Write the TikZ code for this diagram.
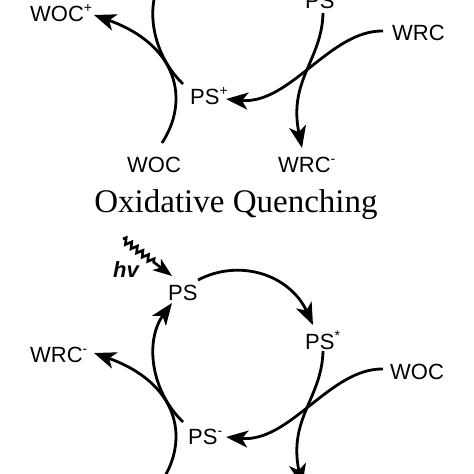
\documentclass[tikz,border=0pt]{standalone}
\usepackage{fontspec}
\setmainfont{Liberation Serif}
\newfontfamily\labfont{Liberation Sans}
\usetikzlibrary{arrows.meta,decorations.pathmorphing}
\newcommand\upmark[1]{\raisebox{0.40em}{\fontsize{14}{14}\selectfont #1}}
\begin{document}
\begin{tikzpicture}[x=1pt,y=-1pt,
  lab/.style={font=\labfont\fontsize{22}{22}\selectfont, inner sep=0pt, anchor=base west},
  conn/.style={line width=2.8pt},
  arr/.style={conn,-{Stealth[length=22pt,width=17pt,inset=6pt]}},
  wavy/.style={line width=2.6pt, decorate, decoration={zigzag, segment length=7pt, amplitude=3pt, post length=22pt},
    -{Stealth[length=19pt,width=14pt,inset=5pt]}}]
\useasboundingbox (0,0) rectangle (474,474);
\fill[white] (0,0) rectangle (474,474);
\clip (0,0) rectangle (474,474);
% ---------- top (oxidative) cycle ----------
\node[lab] (tPSs) at (305,8) {PS\upmark{*}};
\node[lab] (tWOCp) at (30,21) {WOC\upmark{+}};
\node[lab] (tPSp) at (190,104) {PS\upmark{+}};
\node[lab] (tWRC) at (392,40) {WRC};
\node[lab] (tWOC) at (127,172) {WOC};
\node[lab] (tWRCm) at (278,172) {WRC\upmark{-}};
\node[font=\fontsize{33}{33}\selectfont, inner sep=0pt, anchor=base] (title) at (236,212) {Oxidative Quenching};
\coordinate (tA0) at (183,84);   \coordinate (tA1) at (172,-35);
\coordinate (tB0) at (162,143);  \coordinate (tB1) at (94,15);
\coordinate (tC0) at (323,13);   \coordinate (tC1) at (302,148);
\coordinate (tD0) at (383,31);   \coordinate (tD1) at (226,99);
\draw[arr] (tA0) .. controls (150,52) and (145,2) .. (tA1);
\draw[arr] (tB0) .. controls (190,100) and (178,45) .. (tB1);
\draw[arr] (tC0) .. controls (322,60) and (288,80) .. (tC1);
\draw[arr] (tD0) .. controls (330,30) and (290,105) .. (tD1);
% ---------- bottom (reductive) cycle ----------
\node[lab] (bPS) at (168,300) {PS};
\node[lab] (bPSs) at (305,349) {PS\upmark{*}};
\node[lab] (bWOC) at (390,379) {WOC};
\node[lab] (bWRCm) at (30,362) {WRC\upmark{-}};
\node[lab] (bPSm) at (188,444) {PS\upmark{-}};
\node[lab, font=\labfont\bfseries\itshape\fontsize{22}{22}\selectfont] (hv) at (113,277) {hv};
\coordinate (bE0) at (198,280);  \coordinate (bE1) at (313,325);
\coordinate (bA0) at (183,422);  \coordinate (bA1) at (172,303);
\coordinate (bB0) at (162,481);  \coordinate (bB1) at (94,353);
\coordinate (bC0) at (323,351);  \coordinate (bC1) at (302,486);
\coordinate (bD0) at (383,369);  \coordinate (bD1) at (226,437);
\coordinate (hv0) at (123,239);  \coordinate (hv1) at (172,276);
\draw[arr] (bE0) .. controls (240,258) and (290,275) .. (bE1);
\draw[arr] (bA0) .. controls (150,390) and (145,340) .. (bA1);
\draw[arr] (bB0) .. controls (190,438) and (178,383) .. (bB1);
\draw[arr] (bC0) .. controls (322,398) and (288,418) .. (bC1);
\draw[arr] (bD0) .. controls (330,368) and (290,443) .. (bD1);
\draw[wavy] (hv0) -- (hv1);
\end{tikzpicture}
\end{document}
